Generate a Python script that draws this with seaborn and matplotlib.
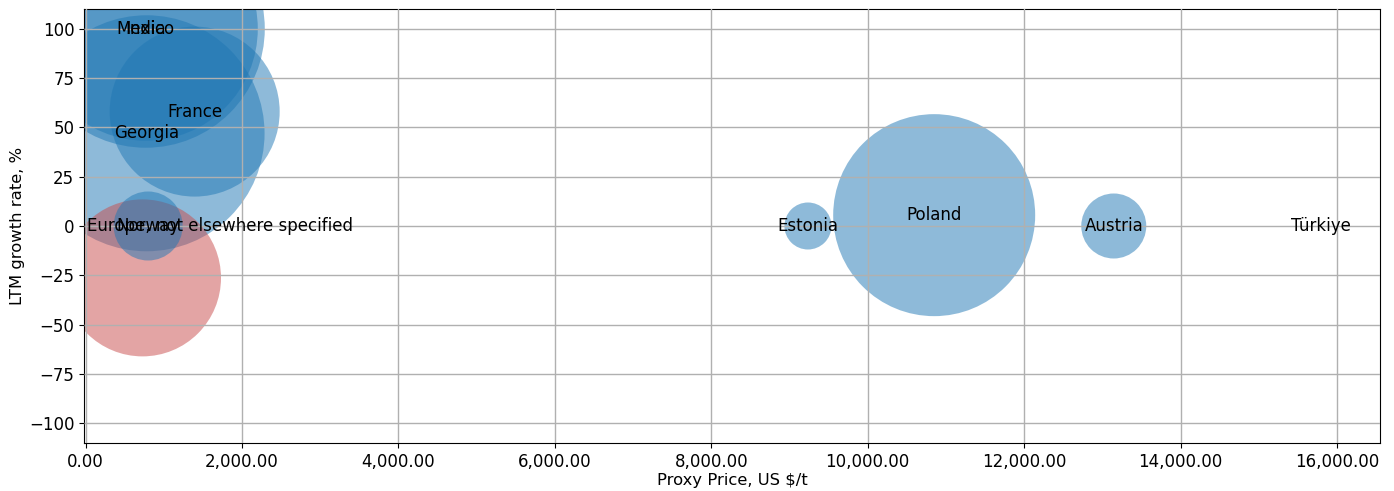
import matplotlib
matplotlib.use("Agg")
import matplotlib.pyplot as plt
from matplotlib.ticker import StrMethodFormatter
import pandas as pd
import seaborn as sns

# values
countries = ["Georgia", "India", "Mexico", "France", "", "Norway",
             "Europe, not elsewhere specified", "Estonia", "Poland", "Austria", "Türkiye"]
proxy_price = [780, 770, 770, 1395, 728, 800, 1720, 9236, 10850, 13146, 15796]
growth_rate = [47, 100, 100, 58, -26.3, 0, 0, 0, 5.5, 0, 0]
bubble_size = [236, 238, 224, 170, 157, 69, 0, 47, 202, 65, 0]  # marker diameter, px

BLUE = "#1f77b4"
RED = "#c84b4b"

df = pd.DataFrame({
    "country": countries,
    "price": proxy_price,
    "growth": growth_rate,
    "diam": bubble_size,
})
df["trend"] = ["down" if g < 0 else "up" for g in df["growth"]]
# diameter in px -> marker area in pt^2 at 100 dpi
df["area"] = (df["diam"] * 72 / 100) ** 2

fig = plt.figure(figsize=(13.94, 4.91), dpi=100)
ax = fig.add_axes([84 / 1394, 48 / 491, 1296 / 1394, 434 / 491])

amax = df["area"].max()
sns.scatterplot(
    data=df, x="price", y="growth", hue="trend", size="area",
    sizes=(0, amax), size_norm=(0, amax),
    palette={"up": BLUE, "down": RED}, alpha=0.5, linewidth=0,
    legend=False, ax=ax,
)

for _, row in df.iterrows():
    if row["country"]:
        ax.text(row["price"], row["growth"], row["country"], ha="center", va="center", fontsize=12)

ax.set_xlim(-20, 16550)
ax.set_ylim(-110, 110)
ax.set_yticks([-100, -75, -50, -25, 0, 25, 50, 75, 100])
ax.xaxis.set_major_formatter(StrMethodFormatter("{x:,.2f}"))
ax.tick_params(labelsize=12)
ax.grid(True, color="#b0b0b0", linewidth=1)
ax.set_axisbelow(False)
ax.set_xlabel("Proxy Price, US $/t", fontsize=11.8, labelpad=2)
ax.set_ylabel("LTM growth rate, %", fontsize=11.8, labelpad=3)

fig.savefig("out.png", dpi=100)
